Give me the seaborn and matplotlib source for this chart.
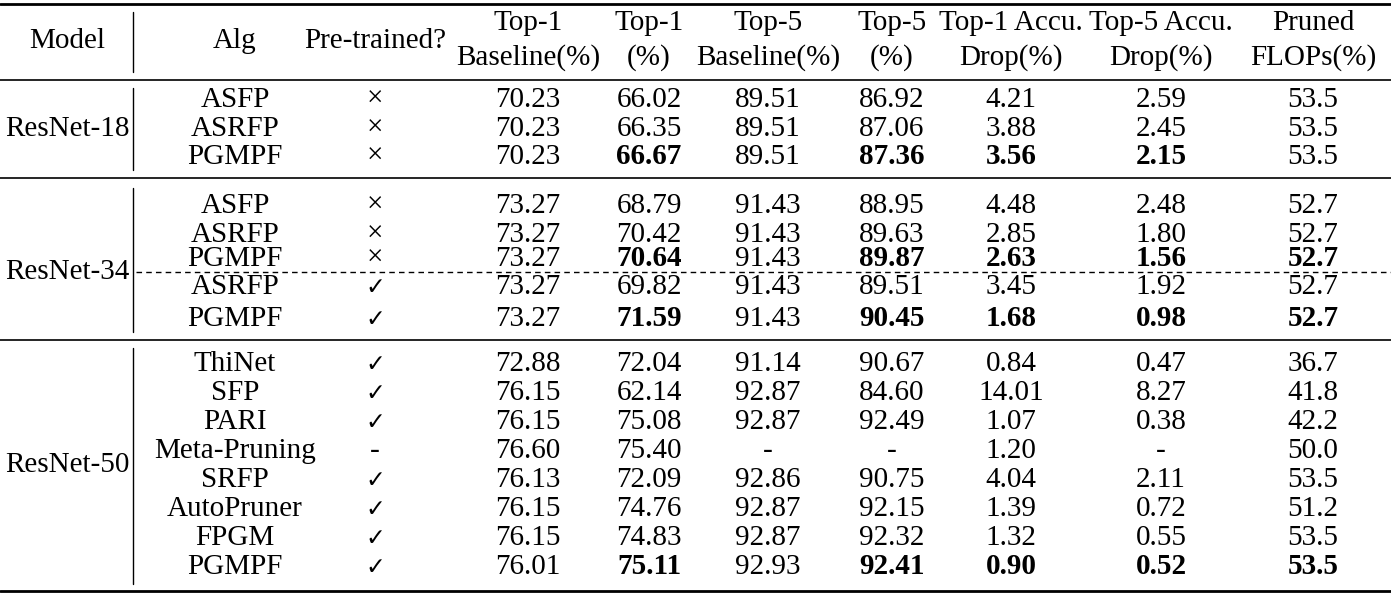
import matplotlib
matplotlib.use("Agg")
import matplotlib.pyplot as plt
import seaborn as sns

sns.set_theme(style="white")
plt.rcParams['font.family'] = ['Liberation Serif', 'DejaVu Serif']

headers1 = ["Model", "Alg", "Pre-trained?", "Top-1", "Top-1", "Top-5", "Top-5", "Top-1 Accu.", "Top-5 Accu.", "Pruned"]
headers2 = ["", "", "", "Baseline(%)", "(%)", "Baseline(%)", "(%)", "Drop(%)", "Drop(%)", "FLOPs(%)"]
models = ["ResNet-18", "ResNet-34", "ResNet-50"]
algs = [["ASFP", "ASRFP", "PGMPF"],
        ["ASFP", "ASRFP", "PGMPF", "ASRFP", "PGMPF"],
        ["ThiNet", "SFP", "PARI", "Meta-Pruning", "SRFP", "AutoPruner", "FPGM", "PGMPF"]]
pretrained = [["×", "×", "×"],
              ["×", "×", "×", "✓", "✓"],
              ["✓", "✓", "✓", "-", "✓", "✓", "✓", "✓"]]
values = [
    [["70.23", "66.02", "89.51", "86.92", "4.21", "2.59", "53.5"],
     ["70.23", "66.35", "89.51", "87.06", "3.88", "2.45", "53.5"],
     ["70.23", "66.67", "89.51", "87.36", "3.56", "2.15", "53.5"]],
    [["73.27", "68.79", "91.43", "88.95", "4.48", "2.48", "52.7"],
     ["73.27", "70.42", "91.43", "89.63", "2.85", "1.80", "52.7"],
     ["73.27", "70.64", "91.43", "89.87", "2.63", "1.56", "52.7"],
     ["73.27", "69.82", "91.43", "89.51", "3.45", "1.92", "52.7"],
     ["73.27", "71.59", "91.43", "90.45", "1.68", "0.98", "52.7"]],
    [["72.88", "72.04", "91.14", "90.67", "0.84", "0.47", "36.7"],
     ["76.15", "62.14", "92.87", "84.60", "14.01", "8.27", "41.8"],
     ["76.15", "75.08", "92.87", "92.49", "1.07", "0.38", "42.2"],
     ["76.60", "75.40", "-", "-", "1.20", "-", "50.0"],
     ["76.13", "72.09", "92.86", "90.75", "4.04", "2.11", "53.5"],
     ["76.15", "74.76", "92.87", "92.15", "1.39", "0.72", "51.2"],
     ["76.15", "74.83", "92.87", "92.32", "1.32", "0.55", "53.5"],
     ["76.01", "75.11", "92.93", "92.41", "0.90", "0.52", "53.5"]],
]
bold_cells = {(0, 2): [1, 3, 4, 5], (1, 2): [1, 3, 4, 5, 6], (1, 4): [1, 3, 4, 5, 6],
              (2, 7): [1, 3, 4, 5, 6]}

colx = [67, 235, 375, 528, 649, 768, 892, 1011, 1161, 1313]
rowy = [[100, 129, 157], [206, 235, 259, 287, 319], [364, 393, 422, 451, 480, 509, 538, 567]]
model_y = [129, 272, 465]
fs = 21

fig = plt.figure(figsize=(13.91, 5.96), dpi=100)
ax = fig.add_axes([0, 0, 1, 1])
ax.set_xlim(0, 1391); ax.set_ylim(596, 0); ax.axis('off')

def t(x, y, s, bold=False, size=fs, family=None):
    kw = dict(family=family) if family else {}
    ax.text(x, y, s, ha='center', va='center', fontsize=size,
            fontweight='bold' if bold else 'normal', color='black', **kw)

for i, (h1, h2) in enumerate(zip(headers1, headers2)):
    if h2:
        t(colx[i], 23, h1); t(colx[i], 58, h2)
    else:
        t(colx[i], 41, h1)

for g in range(3):
    t(colx[0], model_y[g], models[g])
    for r, y in enumerate(rowy[g]):
        t(colx[1], y, algs[g][r])
        s = pretrained[g][r]
        if s == "✓":
            t(colx[2], y, s, size=17, family=['DejaVu Sans'])
        else:
            t(colx[2], y, s)
        b = bold_cells.get((g, r), [])
        for c, v in enumerate(values[g][r]):
            t(colx[3 + c], y, v, bold=(c in b))

for y, lw in [(4, 2), (80, 1.2), (178, 1.2), (340, 1.2), (591, 2)]:
    ax.plot([0, 1391], [y, y], color='black', lw=lw)
ax.plot([136, 1391], [272, 272], color='black', lw=1, ls=(0, (4, 3)))
for y0, y1 in [(12, 72), (88, 170), (188, 332), (348, 584)]:
    ax.plot([133, 133], [y0, y1], color='black', lw=1)

fig.savefig("out.png", dpi=100)
